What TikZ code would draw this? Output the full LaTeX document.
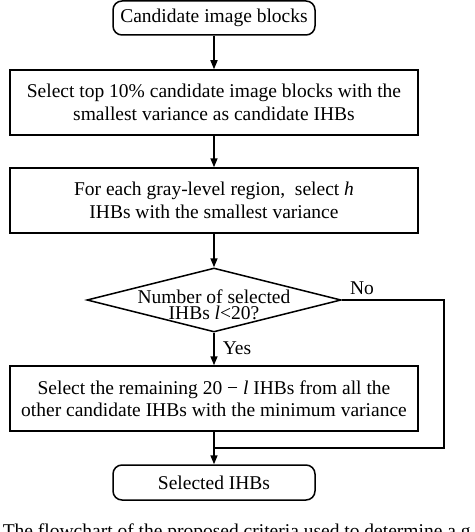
\documentclass[tikz,border=0pt]{standalone}
\usepackage{fontspec}
\setmainfont{Liberation Serif}
\usetikzlibrary{arrows.meta,shapes.geometric}
\begin{document}
\begin{tikzpicture}[x=1pt,y=-1pt,
  line width=1.5pt,
  arr/.style={-{Triangle[length=9pt,width=7pt]}},
  txt/.style={font=\fontsize{19.5}{22.5}\selectfont},
  rbox/.style={draw, rounded corners=9pt, minimum width=202pt, minimum height=34pt, inner sep=0pt, txt},
  pbox/.style={draw, minimum width=408pt, minimum height=65pt, inner sep=0pt, align=center, txt},
  lbl/.style={txt, inner sep=0pt}]
\useasboundingbox (0,0) rectangle (474,532);
\clip (0,0) rectangle (474,532);
\node[rbox] (start) at (214,18) {Candidate image blocks};
\node[pbox] (b1) at (214,102.5) {Select top 10\% candidate image blocks with the\\smallest variance as candidate IHBs};
\node[pbox] (b2) at (214,200.5) {For each gray-level region,\ \ select \textit{h}\\IHBs with the smallest variance};
\node[draw, diamond, minimum width=254pt, minimum height=64pt, inner sep=0pt] (dec) at (214,300) {};
\node[inner sep=0pt, align=center, font=\fontsize{19.5}{16}\selectfont] (dect) at (214,305) {Number of selected\\IHBs \textit{l}<20?};
\node[pbox] (b3) at (214,398.5) {Select the remaining 20 − \textit{l} IHBs from all the\\other candidate IHBs with the minimum variance};
\node[rbox, minimum height=35pt] (end) at (214,482.5) {Selected IHBs};
\coordinate (c1) at (444,300);
\coordinate (c2) at (444,448);
\coordinate (m) at (214,448);
\draw[arr] (start) -- (b1);
\draw[arr] (b1) -- (b2);
\draw[arr] (b2) -- (dec.north);
\draw[arr] (dec.south) -- (b3);
\draw (dec.east) -- (c1) -- (c2) -- (m);
\draw[arr] (b3) -- (end);
\node[lbl, anchor=west] (yes) at (222,348) {Yes};
\node[lbl] (no) at (362,288) {No};
\node[lbl, anchor=base west] (cap) at (2,537) {The flowchart of the proposed criteria used to determine a g};
\end{tikzpicture}
\end{document}
